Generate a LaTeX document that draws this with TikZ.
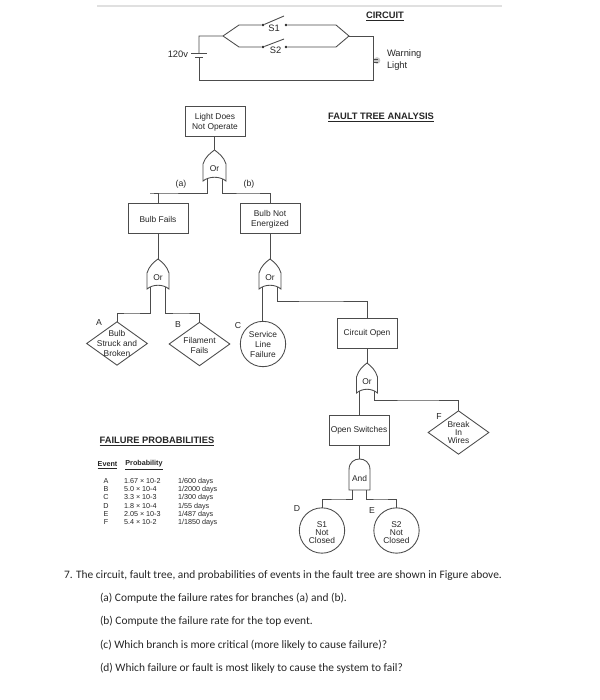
\documentclass[tikz,border=0pt]{standalone}
\usepackage{fontspec}
\setmainfont{Liberation Sans}
\newfontfamily\bodyfont{Carlito}
\usetikzlibrary{shapes.geometric}
\definecolor{ink}{gray}{0.15}
\definecolor{wire}{gray}{0.3}
\tikzset{
  x=0.75pt,y=-0.75pt,
  every node/.style={text=ink,font=\fontsize{6.3pt}{7.5pt}\selectfont,inner sep=0pt,outer sep=0pt},
  ln/.style={draw=wire,line width=0.65pt},
  evbox/.style={draw=wire,line width=0.65pt,minimum width=45pt,minimum height=22.5pt,align=center},
  evdiamond/.style={diamond,draw=wire,line width=0.65pt,minimum width=45.5pt,minimum height=32.5pt},
  evcircle/.style={circle,draw=wire,line width=0.65pt,minimum size=34pt,align=center},
  midtext/.style={align=center},
  tight/.style={font=\fontsize{6.3pt}{6pt}\selectfont},
  gatelabel/.style={minimum width=15pt,minimum height=10pt},
  tag/.style={font=\fontsize{6.5pt}{7.6pt}\selectfont},
  clab/.style={font=\fontsize{7pt}{8pt}\selectfont},
  head/.style={font=\fontsize{7pt}{8pt}\selectfont\bfseries},
  tbl/.style={font=\fontsize{5.4pt}{6.5pt}\selectfont,anchor=west},
  body/.style={font=\fontsize{8.55pt}{10pt}\bodyfont,anchor=west,text=black!85},
  dotc/.style={circle,fill=ink,minimum size=2.2pt}
}
\newcommand{\orgate}[5]{%
  \draw[ln] (#2-#5,#4) -- (#2-#5,#3+14) .. controls (#2-#5+2,#3+7) and (#2-4,#3+3) .. (#2,#3)
     .. controls (#2+4,#3+3) and (#2+#5-2,#3+7) .. (#2+#5,#3+14) -- (#2+#5,#4)
     .. controls (#2+#5-6,#4-5) and (#2-#5+6,#4-5) .. cycle;
  \node[gatelabel] (#1) at (#2,#3+19) {Or};
  \coordinate (#1top) at (#2,#3);
  \coordinate (#1l) at (#2-7.5,#4-2);
  \coordinate (#1r) at (#2+7.5,#4-2);
}
\newcommand{\andgate}[5]{%
  \draw[ln] (#2-#5,#4) -- (#2-#5,#3+11) .. controls (#2-#5,#3+3) and (#2-5,#3) .. (#2,#3)
     .. controls (#2+5,#3) and (#2+#5,#3+3) .. (#2+#5,#3+11) -- (#2+#5,#4) -- cycle;
  \node[gatelabel] (#1) at (#2,#3+19) {And};
  \coordinate (#1top) at (#2,#3);
  \coordinate (#1l) at (#2-7,#4);
  \coordinate (#1r) at (#2+7,#4);
}
\begin{document}
\begin{tikzpicture}
\useasboundingbox (0,0) rectangle (600,700);
\fill[white] (0,0) rectangle (600,700);
\draw[black!12,line width=0.8pt] (97,6) -- (502,6);

% circuit
\coordinate (ja) at (223,36);
\coordinate (jb) at (349,36);
\coordinate (ul) at (239,25);
\coordinate (ll) at (239,47);
\coordinate (ur) at (336,25);
\coordinate (lr) at (336,47);
\coordinate (tl) at (199,36);
\coordinate (tr) at (373,36);
\coordinate (bl) at (199,80);
\coordinate (br) at (373,80);
\coordinate (batp) at (199,53);
\coordinate (batn) at (199,57);
\node[dotc] (s1a) at (263,25) {};
\node[dotc] (s1b) at (286,25) {};
\node[dotc] (s2a) at (263,47) {};
\node[dotc] (s2b) at (286,47) {};
\coordinate (s1t) at (284,16);
\coordinate (s2t) at (284,39);
\draw[ln] (batp) -- (tl) -- (ja) -- (ul) -- (s1a) -- (s1t);
\draw[ln] (ja) -- (ll) -- (s2a) -- (s2t);
\draw[ln] (s1b) -- (ur) -- (jb) -- (lr) -- (s2b);
\node[circle,fill=black!22,minimum size=5pt] (lamp) at (377,60.5) {};
\draw[ln] (jb) -- (tr) -- (br) -- (bl) -- (batn);
\draw[ln] (191,53) -- (207,53);
\draw[ln] (195,57) -- (203,57);
\draw[ln,line width=0.35pt] (373,59) -- (378,59) (373,62) -- (378,62);
\node[clab] (s1lab) at (274,28.5) {S1};
\node[clab] (s2lab) at (275.5,50.5) {S2};
\node[clab,anchor=east] (volt) at (188,54) {120v};
\node[clab,anchor=west,align=left] (warn) at (387,60) {Warning\\[1.6pt]Light};
\node[head] (ttlc) at (385,16.5) {\underline{CIRCUIT}};
\node[head] (ttlf) at (381,117.5) {\underline{FAULT TREE ANALYSIS}};

% tree
\node[evbox,label={[midtext,yshift=-0.75pt]center:Light Does\\Not Operate}] (top) at (215,121.5) {};
\orgate{g1}{214.5}{150}{181}{11.5}
\node[evbox,label={[midtext,yshift=-0.75pt]center:Bulb Fails}] (bf) at (158,218) {};
\node[evbox,label={[midtext,yshift=-0.75pt]center:Bulb Not\\Energized}] (bne) at (270,218) {};
\orgate{g2}{158}{259}{289}{11}
\orgate{g3}{270}{259}{289}{11}
\node[evdiamond,label={[midtext]center:Bulb\\Struck and\\Broken}] (da) at (117,343.5) {};
\node[evdiamond,label={[midtext,yshift=-1pt]center:Filament\\Fails}] (db) at (199.5,344) {};
\node[evcircle] (cc) at (263,344) {Service\\Line\\Failure};
\node[evbox] (co) at (367,333) {Circuit Open};
\orgate{g4}{367}{363}{393}{10.5}
\node[evbox] (os) at (359,430) {Open Switches};
\node[evdiamond,label={[midtext,tight]center:Break\\In\\Wires}] (df) at (458.5,432.5) {};
\andgate{g5}{359.5}{459}{490}{10.5}
\node[evcircle,label={[midtext,tight,yshift=-1.5pt]center:S1\\Not\\Closed}] (cd) at (322,530.5) {};
\node[evcircle,label={[midtext,tight,yshift=-1.5pt]center:S2\\Not\\Closed}] (ce) at (396.5,530.5) {};

\draw[ln] (top.south -| g1top) -- (g1top);
\draw[ln] (g1l) |- (150,193) -| (bf.north);
\draw[ln] (g1r) |- (250,193) -| (bne.north);
\draw[ln] (bf.south) -- (g2top);
\draw[ln] (bne.south) -- (g3top);
\draw[ln] (g2l) |- (130,313) -| (da.north);
\draw[ln] (g2r) |- (180,313) -| (db.north);
\draw[ln] (g3l) -- (g3l |- cc.north);
\draw[ln] (g3r) |- (320,301) -| (co.north);
\draw[ln] (co.south) -- (g4top);
\draw[ln] (g4l) -- (g4l |- os.north);
\draw[ln] (g4r) |- (420,400) -| (df.north);
\draw[ln] (g5top |- os.south) -- (g5top);
\draw[ln] (g5l) |- (340,499) -| (cd.north);
\draw[ln] (g5r) |- (380,499) -| (ce.north);

\node[tag] (la) at (181,184) {(a)};
\node[tag] (lb) at (249,184) {(b)};
\node[tag] (ta) at (99,323) {A};
\node[tag] (tb) at (178,325) {B};
\node[tag] (tc) at (238,326) {C};
\node[tag] (td) at (297,509) {D};
\node[tag] (te) at (372,511) {E};
\node[tag] (tf) at (439,417) {F};

% probabilities
\node[head] (fp) at (157,441.5) {\underline{FAILURE PROBABILITIES}};
\node[tbl,anchor=center,font=\fontsize{5.4pt}{6.5pt}\selectfont\bfseries] (ev) at (107.5,465) {\underline{Event}};
\node[tbl,anchor=center,font=\fontsize{5.4pt}{6.5pt}\selectfont\bfseries] (pr) at (144,465) {\underline{Probability}};
\node[tbl,anchor=center] (a1) at (106,481.5) {A};
\node[tbl,anchor=center] (b1) at (106,489.5) {B};
\node[tbl,anchor=center] (c1) at (106,497.5) {C};
\node[tbl,anchor=center] (d1) at (106,506.5) {D};
\node[tbl,anchor=center] (e1) at (106,514.5) {E};
\node[tbl,anchor=center] (f1) at (106,522.5) {F};
\node[tbl] (a2) at (124,481.5) {1.67 × 10-2};
\node[tbl] (b2) at (124,489.5) {5.0 × 10-4};
\node[tbl] (c2) at (124,497.5) {3.3 × 10-3};
\node[tbl] (d2) at (124,506.5) {1.8 × 10-4};
\node[tbl] (e2) at (124,514.5) {2.05 × 10-3};
\node[tbl] (f2) at (124,522.5) {5.4 × 10-2};
\node[tbl] (a3) at (178,481.5) {1/600 days};
\node[tbl] (b3) at (178,489.5) {1/2000 days};
\node[tbl] (c3) at (178,497.5) {1/300 days};
\node[tbl] (d3) at (178,506.5) {1/55 days};
\node[tbl] (e3) at (178,514.5) {1/487 days};
\node[tbl] (f3) at (178,522.5) {1/1850 days};

% question
\node[body] (q0) at (64,575.5) {7. The circuit, fault tree, and probabilities of events in the fault tree are shown in Figure above.};
\node[body] (q1) at (100,598) {(a) Compute the failure rates for branches (a) and (b).};
\node[body] (q2) at (100,621.5) {(b) Compute the failure rate for the top event.};
\node[body] (q3) at (100,645) {(c) Which branch is more critical (more likely to cause failure)?};
\node[body] (q4) at (100,668) {(d) Which failure or fault is most likely to cause the system to fail?};
\end{tikzpicture}
\end{document}
